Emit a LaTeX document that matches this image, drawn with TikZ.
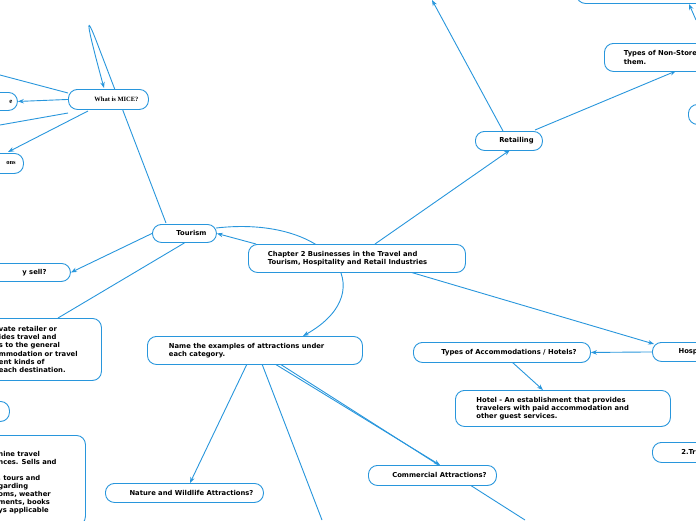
\documentclass[tikz,border=0pt]{standalone}
\usepackage{fontspec}
\setmainfont{DejaVu Sans}
\newfontfamily\mice{Liberation Serif}
\usetikzlibrary{arrows.meta,backgrounds,calc}
\begin{document}
\begin{tikzpicture}[x=1pt,y=-1pt,
 bx/.style={c,rounded corners=9pt,fill=white,font=\bfseries\fontsize{6.8}{8.2}\selectfont,align=left,anchor=north west,inner sep=0pt},
 ar/.style={c,-{Stealth[length=6pt]}}]
\definecolor{lc}{RGB}{40,150,220}
\tikzset{c/.style={draw=lc,line width=0.9pt}}
\useasboundingbox (0,0) rectangle (696,520);
% boxes
\node[bx,minimum width=217pt,minimum height=28pt] (main) at (248,244) {\hspace*{17pt}\parbox{195pt}{Chapter 2 Businesses in the Travel and\\Tourism, Hospitality and Retail Industries}};
\node[bx,minimum width=64pt,minimum height=18pt] (tour) at (152,224) {\hspace*{14pt}Tourism};
\node[bx,minimum width=80pt,minimum height=20pt,font=\mice\bfseries\fontsize{6.5}{7}\selectfont] (mice) at (68,89) {\hspace*{16pt}What is MICE?};
\node[bx,minimum width=57pt,minimum height=18pt] (le) at (-40,92) {\hspace*{44pt}\mice e};
\node[bx,minimum width=63pt,minimum height=20pt] (ons) at (-40,153) {\hspace*{38pt}\mice\bfseries\fontsize{6.5}{7}\selectfont ons};
\node[bx,minimum width=110pt,minimum height=18pt] (sell) at (-40,263) {\hspace*{38pt}y sell?};
\node[bx,minimum width=161pt,minimum height=62pt] (agent) at (-60,318) {\hspace*{56pt}\parbox{100pt}{vate retailer or\\ides travel and\\s to the general\\mmodation or travel\\ent kinds of\\each destination.}};
\node[bx,minimum width=29pt,minimum height=20pt] (sm) at (-20,401) {};
\node[bx,minimum width=145pt,minimum height=90pt] (online) at (-60,435) {\hspace*{56pt}\raisebox{-10pt}{\parbox[t]{85pt}{nine travel\\nces. Sells and\\[7pt], tours and\\garding\\oms, weather\\ments, books\\ys applicable}}};
\node[bx,minimum width=67pt,minimum height=19pt] (ret) at (475,131) {\hspace*{15pt}Retailing};
\node[bx,minimum width=130pt,minimum height=28pt] (ns) at (604,43) {\hspace*{19pt}\parbox{110pt}{Types of Non-Store\\them.}};
\node[bx,minimum width=130pt,minimum height=23pt] (tr) at (576,-20) {};
\node[bx,minimum width=30pt,minimum height=20pt] (rs) at (688,104) {};
\node[bx,minimum width=80pt,minimum height=19pt] (hos) at (652,342) {\hspace*{14pt}Hospitality};
\node[bx,minimum width=177pt,minimum height=20pt] (acc) at (413,342) {\hspace*{14pt}Types of Accommodations / Hotels?};
\node[bx,minimum width=215pt,minimum height=36pt] (hotel) at (455,390) {\hspace*{17pt}\parbox{190pt}{Hotel - An establishment that provides\\travelers with paid accommodation and\\other guest services.}};
\node[bx,minimum width=70pt,minimum height=20pt] (trad) at (652,442) {\hspace*{14pt}2.Tradi};
\node[bx,minimum width=215pt,minimum height=28pt] (name) at (147,336) {\hspace*{18pt}\parbox{190pt}{Name the examples of attractions under\\each category.}};
\node[bx,minimum width=158pt,minimum height=19pt] (nat) at (105,483) {\hspace*{14pt}Nature and Wildlife Attractions?};
\node[bx,minimum width=128pt,minimum height=20pt] (com) at (368,465) {\hspace*{14pt}Commercial Attractions?};
% coordinates
\coordinate (o1) at (432,0);
\coordinate (o2) at (322,520);
\coordinate (o3) at (525,520);
\coordinate (o4) at (0,75);
\coordinate (o5) at (0,125);
\coordinate (o6) at (696,20);
\begin{scope}[on background layer]
\draw[ar] ($(main.north west)+(8,0)$) -- (tour.east);
\draw[ar] (216,228) .. controls (330,215) and (385,290) .. (303,336);
\draw[ar] (tour.west) -- (sell.east);
\draw[c] (tour.south) -- (58,318);
\draw[ar] (166,223) -- (99,48) .. controls (84,8) and (86,22) .. (104,88);
\draw[ar] (mice.west) -- (le.east);
\draw[c] (68,93) -- (o4);
\draw[c] (68,113) -- (o5);
\draw[ar] (88,111) -- (8,152);
\draw[ar] (375,244) -- (510,150);
\draw[ar] (503,131) -- (o1);
\draw[ar] (535,130) -- (676,71);
\draw[ar] (o6) -- (689,4);
\draw[ar] (410,272) -- (654,344);
\draw[ar] (hos.west) -- (acc.east);
\draw[ar] (512,362) -- (543,390);
\draw[ar] (247,364) -- (190,483);
\draw[c] (262,364) -- (o2);
\draw[ar] (275,364) -- (440,465);
\draw[c] (280,364) -- (o3);
\end{scope}
\end{tikzpicture}
\end{document}
